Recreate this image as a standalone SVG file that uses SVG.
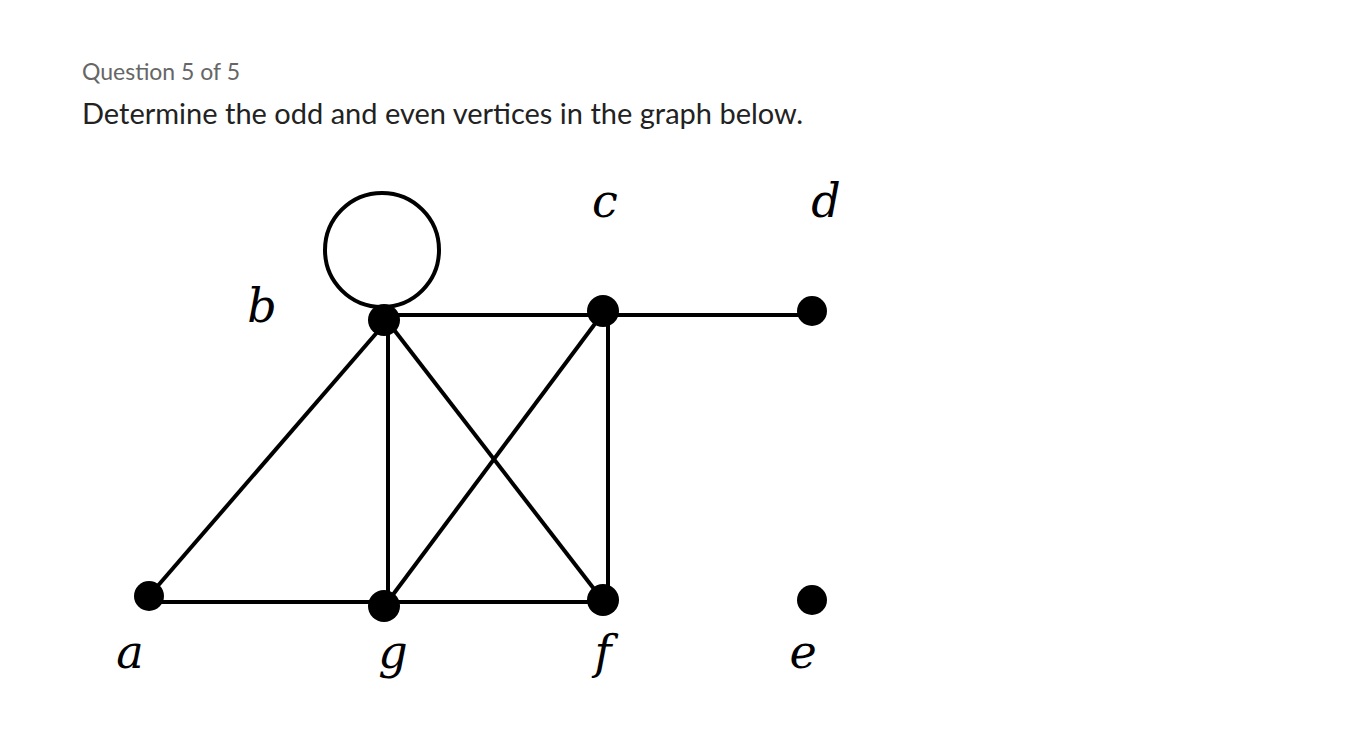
<svg xmlns="http://www.w3.org/2000/svg" width="1366" height="738" viewBox="0 0 1366 738">
<style>
.e{stroke:#000;stroke-width:4;fill:none}
.n{fill:#000}
.l{font-family:"DejaVu Serif","Liberation Serif",serif;font-style:italic;font-size:46px;fill:#000;text-anchor:middle}
.h{font-family:"Lato","Liberation Sans",sans-serif}
</style>
<rect width="1366" height="738" fill="#fff"/>
<text class="h" x="82" y="80" font-size="23" fill="#666">Question 5 of 5</text>
<text class="h" x="82" y="124" font-size="29" fill="#222">Determine the odd and even vertices in the graph below.</text>
<g id="edges">
<circle class="e" cx="382" cy="250" r="57"/>
<line class="e" x1="384" y1="315" x2="812" y2="315"/>
<line class="e" x1="386" y1="322" x2="149" y2="596"/>
<line class="e" x1="388" y1="320" x2="388" y2="604"/>
<line class="e" x1="388" y1="322" x2="601" y2="598"/>
<line class="e" x1="603" y1="313" x2="386" y2="604"/>
<line class="e" x1="608" y1="311" x2="608" y2="600"/>
<line class="e" x1="149" y1="602" x2="603" y2="602"/>
</g>
<g id="node-b"><circle class="n" cx="384" cy="320" r="16"/><text class="l" x="262" y="322">b</text></g>
<g id="node-c"><circle class="n" cx="603" cy="311" r="16"/><text class="l" x="605" y="217">c</text></g>
<g id="node-d"><circle class="n" cx="812" cy="311" r="15"/><text class="l" x="826" y="217">d</text></g>
<g id="node-a"><circle class="n" cx="149" cy="596" r="15"/><text class="l" x="130" y="668">a</text></g>
<g id="node-g"><circle class="n" cx="384" cy="606" r="16"/><text class="l" x="393" y="668">g</text></g>
<g id="node-f"><circle class="n" cx="603" cy="600" r="16"/><text class="l" x="603" y="668">f</text></g>
<g id="node-e"><circle class="n" cx="812" cy="600" r="15"/><text class="l" x="803" y="668">e</text></g>
</svg>
